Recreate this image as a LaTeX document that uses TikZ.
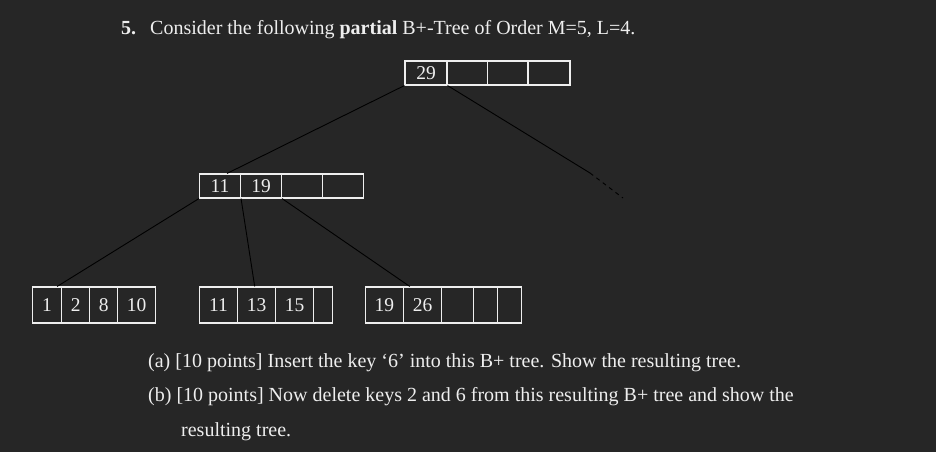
\documentclass[tikz,border=0pt]{standalone}
\usepackage{fontspec}
\setmainfont{Liberation Serif}
\definecolor{bg}{HTML}{262626}
\definecolor{fg}{HTML}{EEEEEE}
\begin{document}
\begin{tikzpicture}[x=1pt,y=-1pt,
  cell/.style={draw=fg,line width=1.1pt,inner sep=0pt,minimum height=24pt,text=fg,font=\fontsize{19.5}{21}\selectfont},
  link/.style={draw=black,line width=0.9pt},
  txt/.style={text=fg,anchor=base west,inner sep=0pt,font=\fontsize{20}{23}\selectfont}]
\fill[bg] (0,0) rectangle (936,452);
\useasboundingbox (0,0) rectangle (936,452);
% title
\node[txt] (title) at (121,35) {\textbf{5.}\hspace{14pt}Consider the following \textbf{partial} B+-Tree of Order M=5, L=4.};
% root
\node[cell,minimum width=42pt] (r1) at (426,73) {29};
\node[cell,minimum width=41pt] (r2) at (467,73) {};
\node[cell,minimum width=41pt] (r3) at (508,73) {};
\node[cell,minimum width=42pt] (r4) at (549,73) {};
% internal
\node[cell,minimum width=41pt] (i1) at (220,186) {11};
\node[cell,minimum width=41pt] (i2) at (261,186) {19};
\node[cell,minimum width=41pt] (i3) at (302,186) {};
\node[cell,minimum width=41pt] (i4) at (343,186) {};
% leaf 1
\node[cell,minimum width=29.4pt,minimum height=36pt] (a1) at (47,305) {1};
\node[cell,minimum width=28pt,minimum height=36pt] (a2) at (75.7,305) {2};
\node[cell,minimum width=28pt,minimum height=36pt] (a3) at (103.7,305) {8};
\node[cell,minimum width=38pt,minimum height=36pt] (a4) at (136.7,305) {10};
% leaf 2
\node[cell,minimum width=38.4pt,minimum height=36pt] (b1) at (218.5,305) {11};
\node[cell,minimum width=38pt,minimum height=36pt] (b2) at (256.7,305) {13};
\node[cell,minimum width=38pt,minimum height=36pt] (b3) at (294.7,305) {15};
\node[cell,minimum width=18.6pt,minimum height=36pt] (b4) at (323,305) {};
% leaf 3
\node[cell,minimum width=38pt,minimum height=36pt] (c1) at (384.3,305) {19};
\node[cell,minimum width=38.4pt,minimum height=36pt] (c2) at (422.5,305) {26};
\node[cell,minimum width=32pt,minimum height=36pt] (c3) at (457.7,305) {};
\node[cell,minimum width=24pt,minimum height=36pt] (c4) at (485.7,305) {};
\node[cell,minimum width=24pt,minimum height=36pt] (c5) at (509.7,305) {};
% connectors
\coordinate (d1) at (590,173);
\coordinate (d2) at (623,198);
\draw[link] (r1.south west) -- ([xshift=7pt]i1.north);
\draw[link] (r1.south east) -- (d1);
\draw[link,dash pattern=on 4pt off 4pt] (d1) -- (d2);
\draw[link] (i1.south west) -- ([xshift=-4pt]a2.north west);
\draw[link] (i1.south east) -- ([xshift=-2pt]b2.north);
\draw[link] (i2.south east) -- ([xshift=7pt]c2.north west);
% questions
\node[txt] (qa) at (148,367) {(a) [10 points] Insert the key `6' into this B+ tree. Show the resulting tree.};
\node[txt] (qb) at (148,401) {(b) [10 points] Now delete keys 2 and 6 from this resulting B+ tree and show the};
\node[txt] (qc) at (181,436) {resulting tree.};
\end{tikzpicture}
\end{document}
